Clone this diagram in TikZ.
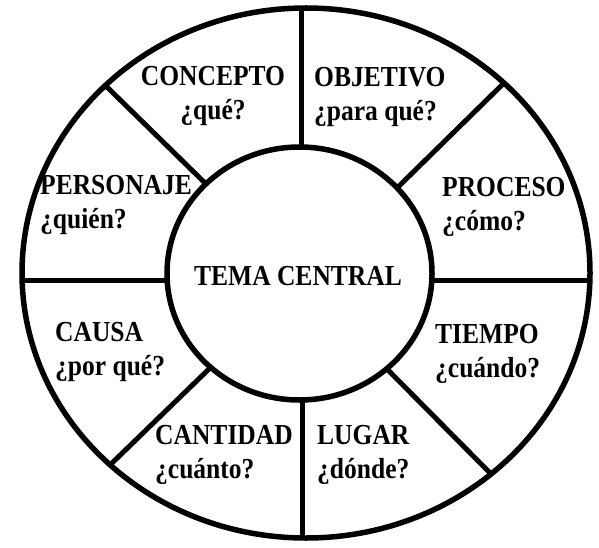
\documentclass[tikz,border=0pt]{standalone}
\usepackage{fontspec}
\setmainfont{Liberation Serif}[FakeStretch=0.88]
\usepackage{tikz}

\begin{document}
\begin{tikzpicture}[
x=1pt, y=-1pt,
ring/.style={line width=5.5pt},
spoke/.style={line width=5pt},
label/.style={inner sep=0pt, align=left, anchor=base west, font=\bfseries\fontsize{29}{34}\selectfont},
]
\useasboundingbox (0,0) rectangle (599,548);

% the two rings
\draw[ring] (306,273) ellipse [x radius=284, y radius=265];
\draw[ring] (299.5,273.5) ellipse [x radius=132.5, y radius=126.5];

% ends of the spokes, outer and inner ring
\coordinate (no) at (301,8);     \coordinate (ni) at (301,147);
\coordinate (so) at (302,538);   \coordinate (si) at (302,400);
\coordinate (wo) at (22,280);    \coordinate (wi) at (167,280);
\coordinate (eo) at (590,280);   \coordinate (ei) at (432,280);
\coordinate (nwo) at (107,87);   \coordinate (nwi) at (205,183);
\coordinate (neo) at (505,82);   \coordinate (nei) at (398,187);
\coordinate (swo) at (110,465);  \coordinate (swi) at (210,368);
\coordinate (seo) at (492,475);  \coordinate (sei) at (388,370);

\path[spoke]
(no) edge (ni)
(so) edge (si)
(wo) edge (wi)
(eo) edge (ei)
(nwo) edge (nwi)
(neo) edge (nei)
(swo) edge (swi)
(seo) edge (sei)
;

% labels, placed at the baseline of their last line
\node[label, anchor=base] (tema) at (298,285) {TEMA CENTRAL};
\node[label, align=center, anchor=base] (concepto) at (213,120) {CONCEPTO\\¿qué?};
\node[label] (objetivo) at (314,121) {OBJETIVO\\¿para qué?};
\node[label] (personaje) at (40,228) {PERSONAJE\\¿quién?};
\node[label] (proceso) at (442,230) {PROCESO\\¿cómo?};
\node[label] (causa) at (55,375) {CAUSA\\¿por qué?};
\node[label] (tiempo) at (435,377) {TIEMPO\\¿cuándo?};
\node[label] (cantidad) at (155,478) {CANTIDAD\\¿cuánto?};
\node[label] (lugar) at (317,478) {LUGAR\\¿dónde?};
\end{tikzpicture}
\end{document}
